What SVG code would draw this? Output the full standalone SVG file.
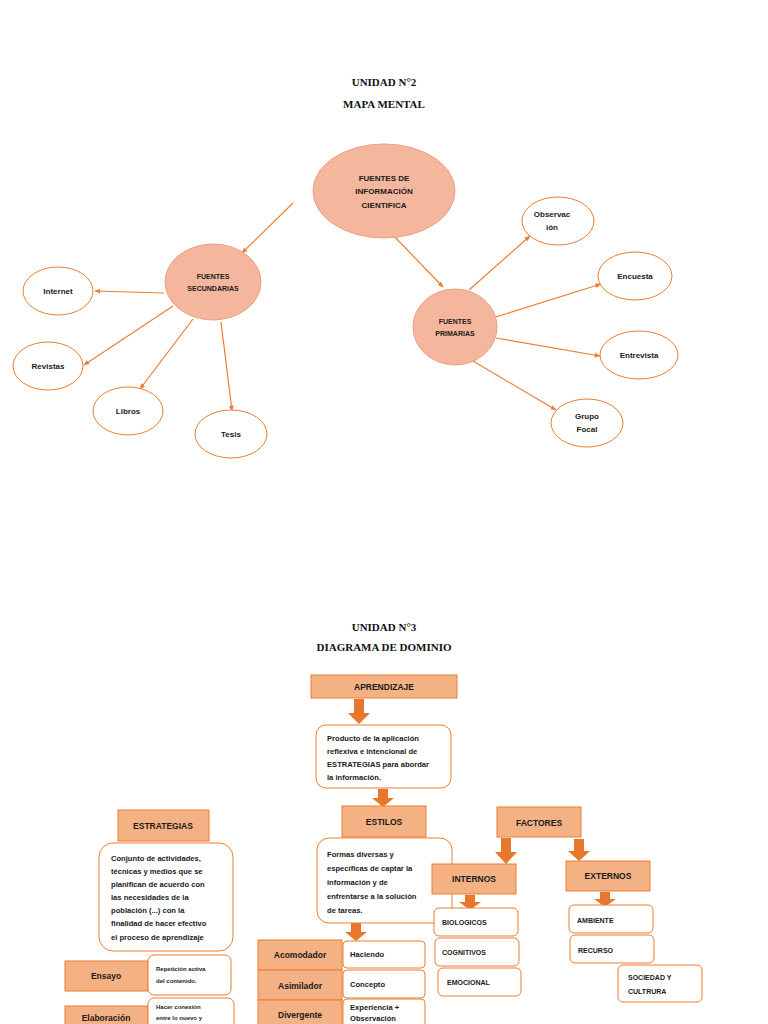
<svg xmlns="http://www.w3.org/2000/svg" width="768" height="1024" viewBox="0 0 768 1024">
<style>
.title{font-family:"Liberation Serif",serif;font-weight:bold;font-size:11px;fill:#111;text-anchor:middle}
.t{font-family:"Liberation Sans",Arial,sans-serif;font-weight:bold;fill:#1a1a1a}
.c{text-anchor:middle}
.bigE{fill:#F4B69C;stroke:#EDA07E;stroke-width:1}
.wE{fill:#fff;stroke:#ED7D31;stroke-width:1}
.box{fill:#F4B183;stroke:#ED7D31;stroke-width:1}
.rbox{fill:#fff;stroke:#ED7D31;stroke-width:1}
.ln{stroke:#ED7D31;stroke-width:1.2;fill:none;marker-end:url(#ah)}
.ba{fill:#E8772E}
</style>
<defs>
<marker id="ah" viewBox="0 0 10 10" refX="9" refY="5" markerWidth="5" markerHeight="5" orient="auto">
<path d="M0 1 L10 5 L0 9 Z" fill="#ED7D31"/>
</marker>
</defs>
<rect width="768" height="1024" fill="#fff"/>
<text class="title" x="384" y="86">UNIDAD N°2</text>
<text class="title" x="384" y="108">MAPA MENTAL</text>

<g id="connectors">
<line class="ln" x1="293" y1="203" x2="242" y2="253"/>
<line class="ln" x1="393" y1="235" x2="443" y2="287"/>
<line class="ln" x1="164" y1="293" x2="95" y2="291"/>
<line class="ln" x1="173" y1="306" x2="84" y2="365"/>
<line class="ln" x1="193" y1="319" x2="140" y2="389"/>
<line class="ln" x1="221" y1="322" x2="232" y2="411"/>
<line class="ln" x1="469" y1="290" x2="530" y2="236"/>
<line class="ln" x1="496" y1="317" x2="601" y2="284"/>
<line class="ln" x1="496" y1="338" x2="600" y2="356"/>
<line class="ln" x1="473" y1="361" x2="556" y2="410"/>
<path class="ba" d="M354 699 H364 V713 H370 L359 724 L348 713 H354 Z"/>
<path class="ba" d="M378 789 H388 V798 H394 L383 807 L372 798 H378 Z"/>
<path class="ba" d="M351 923 H361 V932 H367 L356 941 L345 932 H351 Z"/>
<path class="ba" d="M501 838 H511 V852 H517 L506 864 L495 852 H501 Z"/>
<path class="ba" d="M574 839 H584 V851 H590 L579 861 L568 851 H574 Z"/>
<path class="ba" d="M465 895 H475 V902 H481 L470 910 L459 902 H465 Z"/>
<path class="ba" d="M600 892 H610 V899 H616 L605 907 L594 899 H600 Z"/>
</g>

<g id="central">
<ellipse class="bigE" cx="384" cy="191" rx="71" ry="47"/>
<text class="t c" font-size="8" x="384" y="181">FUENTES DE</text>
<text class="t c" font-size="8" x="384" y="194">INFORMACIÓN</text>
<text class="t c" font-size="8" x="384" y="208">CIENTIFICA</text>
</g>
<g id="secundarias">
<ellipse class="bigE" cx="213" cy="282" rx="48" ry="38"/>
<text class="t c" font-size="7" x="213" y="279">FUENTES</text>
<text class="t c" font-size="7" x="213" y="291">SECUNDARIAS</text>
</g>
<g id="primarias">
<ellipse class="bigE" cx="455" cy="327" rx="42" ry="38"/>
<text class="t c" font-size="7" x="455" y="324">FUENTES</text>
<text class="t c" font-size="7" x="455" y="336">PRIMARIAS</text>
</g>
<g id="internet"><ellipse class="wE" cx="58" cy="291" rx="35" ry="24"/><text class="t c" font-size="8" x="58" y="294">Internet</text></g>
<g id="revistas"><ellipse class="wE" cx="48" cy="366" rx="35" ry="24"/><text class="t c" font-size="8" x="48" y="369">Revistas</text></g>
<g id="libros"><ellipse class="wE" cx="128" cy="411" rx="35" ry="24"/><text class="t c" font-size="8" x="128" y="414">Libros</text></g>
<g id="tesis"><ellipse class="wE" cx="231" cy="434" rx="36" ry="24"/><text class="t c" font-size="8" x="231" y="437">Tesis</text></g>
<g id="observacion"><ellipse class="wE" cx="558" cy="221" rx="36" ry="24"/><text class="t c" font-size="8" x="552" y="217">Observac</text><text class="t c" font-size="8" x="552" y="230">ión</text></g>
<g id="encuesta"><ellipse class="wE" cx="635" cy="276" rx="37" ry="24"/><text class="t c" font-size="8" x="635" y="279">Encuesta</text></g>
<g id="entrevista"><ellipse class="wE" cx="639" cy="355" rx="39" ry="24"/><text class="t c" font-size="8" x="639" y="358">Entrevista</text></g>
<g id="grupofocal"><ellipse class="wE" cx="587" cy="423" rx="36" ry="24"/><text class="t c" font-size="8" x="587" y="419">Grupo</text><text class="t c" font-size="8" x="587" y="432">Focal</text></g>

<text class="title" x="384" y="631">UNIDAD N°3</text>
<text class="title" x="384" y="651">DIAGRAMA DE DOMINIO</text>

<g id="aprendizaje"><rect class="box" x="311" y="675" width="146" height="23"/><text class="t c" font-size="8.5" x="384" y="690">APRENDIZAJE</text></g>
<g id="producto"><rect class="rbox" x="316" y="725" width="135" height="63" rx="10"/>
<text class="t" font-size="7.6" x="327" y="741">Producto de la aplicación</text>
<text class="t" font-size="7.6" x="327" y="754">reflexiva e intencional de</text>
<text class="t" font-size="7.6" x="327" y="767">ESTRATEGIAS para abordar</text>
<text class="t" font-size="7.6" x="327" y="780">la información.</text></g>

<g id="estilos"><rect class="box" x="342" y="806" width="84" height="31"/><text class="t c" font-size="8.5" x="384" y="825">ESTILOS</text></g>
<g id="estilos-desc"><rect class="rbox" x="317" y="838" width="135" height="85" rx="12"/>
<text class="t" font-size="7.6" x="327" y="857">Formas diversas y</text>
<text class="t" font-size="7.6" x="327" y="871">específicas de captar la</text>
<text class="t" font-size="7.6" x="327" y="885">información y de</text>
<text class="t" font-size="7.6" x="327" y="899">enfrentarse a la solución</text>
<text class="t" font-size="7.6" x="327" y="913">de tareas.</text></g>

<g id="acomodador"><rect class="box" x="258" y="940" width="84" height="30"/><text class="t c" font-size="8.5" x="300" y="958">Acomodador</text></g>
<g id="asimilador"><rect class="box" x="258" y="970" width="84" height="30"/><text class="t c" font-size="8.5" x="300" y="989">Asimilador</text></g>
<g id="divergente"><rect class="box" x="258" y="1000" width="84" height="32"/><text class="t c" font-size="8.5" x="300" y="1018">Divergente</text></g>
<g id="haciendo"><rect class="rbox" x="343" y="941" width="82" height="27" rx="4"/><text class="t" font-size="7.6" x="350" y="957">Haciendo</text></g>
<g id="concepto"><rect class="rbox" x="343" y="970" width="82" height="28" rx="4"/><text class="t" font-size="7.6" x="350" y="987">Concepto</text></g>
<g id="experiencia"><rect class="rbox" x="343" y="999" width="82" height="36" rx="4"/><text class="t" font-size="7.6" x="350" y="1010">Experiencia +</text><text class="t" font-size="7.6" x="350" y="1021">Observación</text></g>

<g id="factores"><rect class="box" x="497" y="807" width="84" height="30"/><text class="t c" font-size="8.5" x="539" y="826">FACTORES</text></g>
<g id="internos"><rect class="box" x="432" y="864" width="84" height="30"/><text class="t c" font-size="8.5" x="474" y="882">INTERNOS</text></g>
<g id="externos"><rect class="box" x="566" y="861" width="84" height="30"/><text class="t c" font-size="8.5" x="608" y="879">EXTERNOS</text></g>
<g id="biologicos"><rect class="rbox" x="434" y="908" width="84" height="28" rx="5"/><text class="t" font-size="7" x="442" y="925">BIOLOGICOS</text></g>
<g id="cognitivos"><rect class="rbox" x="435" y="938" width="84" height="28" rx="5"/><text class="t" font-size="7" x="442" y="955">COGNITIVOS</text></g>
<g id="emocional"><rect class="rbox" x="438" y="968" width="83" height="28" rx="5"/><text class="t" font-size="7" x="447" y="985">EMOCIONAL</text></g>
<g id="ambiente"><rect class="rbox" x="569" y="905" width="84" height="28" rx="5"/><text class="t" font-size="7" x="577" y="923">AMBIENTE</text></g>
<g id="recurso"><rect class="rbox" x="570" y="935" width="84" height="28" rx="5"/><text class="t" font-size="7" x="578" y="953">RECURSO</text></g>
<g id="sociedad"><rect class="rbox" x="618" y="965" width="84" height="37" rx="5"/><text class="t" font-size="7" x="628" y="980">SOCIEDAD Y</text><text class="t" font-size="7" x="628" y="994">CULTRURA</text></g>

<g id="estrategias"><rect class="box" x="118" y="810" width="91" height="31"/><text class="t c" font-size="8.5" x="163" y="829">ESTRATEGIAS</text></g>
<g id="estrategias-desc"><rect class="rbox" x="99" y="843" width="134" height="108" rx="14"/>
<text class="t" font-size="7.6" x="111" y="861">Conjunto de actividades,</text>
<text class="t" font-size="7.6" x="111" y="874">técnicas y medios que se</text>
<text class="t" font-size="7.6" x="111" y="887">planifican de acuerdo con</text>
<text class="t" font-size="7.6" x="111" y="900">las necesidades de la</text>
<text class="t" font-size="7.6" x="111" y="913">población (...) con la</text>
<text class="t" font-size="7.6" x="111" y="926">finalidad de hacer efectivo</text>
<text class="t" font-size="7.6" x="111" y="940">el proceso de aprendizaje</text></g>
<g id="ensayo"><rect class="box" x="65" y="961" width="83" height="30"/><text class="t c" font-size="8.5" x="106" y="979">Ensayo</text></g>
<g id="ensayo-desc"><rect class="rbox" x="148" y="955" width="83" height="40" rx="6"/><text class="t" font-size="6" x="156" y="971">Repetición activa</text><text class="t" font-size="6" x="156" y="983">del contenido.</text></g>
<g id="elaboracion"><rect class="box" x="65" y="1006" width="83" height="34"/><text class="t c" font-size="8.5" x="106" y="1021">Elaboración</text></g>
<g id="elaboracion-desc"><rect class="rbox" x="148" y="998" width="86" height="42" rx="6"/><text class="t" font-size="6" x="156" y="1009">Hacer conexión</text><text class="t" font-size="6" x="156" y="1020">entre lo nuevo y</text></g>
</svg>
